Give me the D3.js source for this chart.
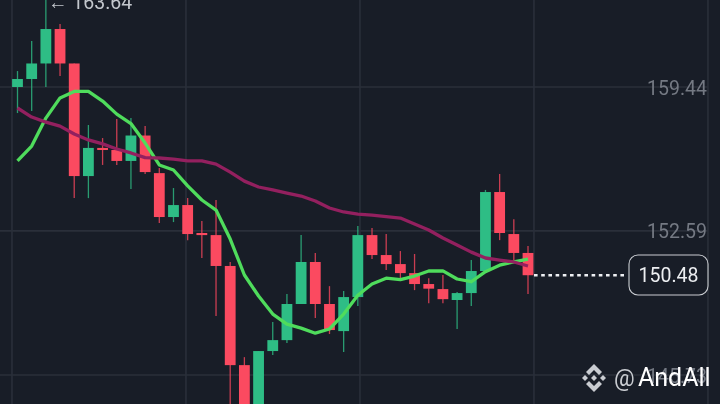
<!DOCTYPE html>
<html><head><meta charset="utf-8">
<script src="https://cdn.jsdelivr.net/npm/d3@7/dist/d3.min.js"></script>
<style>html,body{margin:0;padding:0;background:#181d27;overflow:hidden}svg{display:block;filter:blur(0.4px)}text{font-family:Roboto,sans-serif}</style>
</head><body><div id="c"></div>
<script>
const opens=[159.44,159.82,160.56,162.20,160.56,155.20,156.54,156.44,155.92,157.13,155.34,153.25,153.82,152.49,152.39,150.92,146.20,143.50,146.87,147.39,149.11,151.11,149.11,147.82,149.44,152.39,151.44,151.01,150.58,150.06,149.82,149.30,149.63,150.68,154.44,152.44,151.54];
const highs=[160.20,161.63,163.64,162.44,160.56,157.63,157.01,157.92,157.96,157.58,155.58,154.63,154.15,153.06,154.06,151.11,146.58,146.87,148.25,149.58,152.39,151.54,149.96,149.73,152.82,152.73,152.44,151.63,151.49,150.34,150.49,149.68,151.20,154.54,155.30,153.15,151.87];
const lows=[158.20,158.30,159.44,159.96,154.15,154.15,155.73,155.73,154.58,155.30,152.96,153.01,152.15,151.30,148.54,144.34,143.00,143.00,146.68,147.25,149.11,148.44,147.68,146.82,149.01,151.25,150.73,150.34,149.77,149.15,149.15,147.92,149.01,150.68,152.15,151.11,149.58];
const closes=[159.82,160.56,162.20,160.56,155.20,156.54,156.44,155.92,157.13,155.39,153.25,153.82,152.44,152.39,150.92,146.20,143.58,146.87,147.39,149.11,151.11,149.11,147.87,149.44,152.39,151.44,151.01,150.58,150.06,149.84,149.34,149.63,150.68,154.44,152.49,151.54,150.48];
const maFast=[155.92,156.63,157.96,158.92,159.23,159.23,158.77,158.15,157.70,156.77,155.73,155.49,154.73,154.06,153.58,152.20,150.49,149.49,148.63,148.15,147.96,147.72,147.92,148.63,149.53,150.06,150.34,150.27,150.44,150.68,150.69,150.30,150.17,150.65,150.96,151.12,151.25];
const maSlow=[158.44,158.01,157.77,157.58,157.20,156.92,156.73,156.49,156.30,156.08,156.06,156.01,155.92,155.92,155.77,155.39,154.96,154.68,154.54,154.39,154.25,154.01,153.68,153.49,153.39,153.34,153.27,153.20,152.92,152.63,152.25,151.92,151.58,151.30,151.20,151.11,150.92];
const priceTicks=[159.44,152.59,145.73];
const timeGrid=[-0.39,11.88,24.15,36.42,48.69];
const lastPrice=150.48, highLabel="← 163.64", watermarkAt="@", watermarkName="AndAll";

const W=720,H=404;
const x=d3.scaleLinear().domain([0,36]).range([17.5,528]);
const y=d3.scaleLinear().domain([159.44,145.73]).range([87,375]);
const svg=d3.select("#c").append("svg").attr("width",W).attr("height",H);
svg.append("rect").attr("x",-4).attr("y",-4).attr("width",W+8).attr("height",H+8).attr("fill","#181d27");
const gridC="#2a2f3a";
svg.append("g").selectAll("line").data(priceTicks).join("line")
  .attr("x1",0).attr("x2",x(timeGrid[4])).attr("y1",d=>y(d)).attr("y2",d=>y(d)).attr("stroke",gridC).attr("stroke-width",1.6);
svg.append("g").selectAll("line").data(timeGrid).join("line")
  .attr("x1",d=>x(d)).attr("x2",d=>x(d)).attr("y1",-4).attr("y2",H+4).attr("stroke",gridC).attr("stroke-width",1.6);
svg.append("g").selectAll("text").data(priceTicks).join("text")
  .attr("x",707).attr("y",d=>y(d)+7.5).attr("text-anchor","end").attr("font-size",19.5).attr("fill","#747983")
  .text(d=>d.toFixed(2));

const up=i=>closes[i]>=opens[i];
const idx=d3.range(opens.length);
const bw=10.8;
svg.append("g").selectAll("line").data(idx).join("line")
  .attr("x1",i=>x(i)).attr("x2",i=>x(i)).attr("y1",i=>y(highs[i])).attr("y2",i=>y(lows[i]))
  .attr("stroke",i=>up(i)?"#2ebd85":"#f6465d").attr("stroke-opacity",.8).attr("stroke-width",1.3);
svg.append("g").selectAll("rect").data(idx).join("rect")
  .attr("x",i=>x(i)-bw/2).attr("width",bw)
  .attr("y",i=>y(Math.max(opens[i],closes[i])))
  .attr("height",i=>Math.max(2,Math.abs(y(opens[i])-y(closes[i]))))
  .attr("fill",i=>up(i)?"#2ebd85":"#fb4a60");
const line=d3.line().x((d,i)=>x(i)).y(d=>y(d));
svg.append("path").attr("d",line(maFast)).attr("fill","none").attr("stroke","#4fdc5c").attr("stroke-width",3.3).attr("stroke-linejoin","round");
svg.append("path").attr("d",line(maSlow)).attr("fill","none").attr("stroke","#93205f").attr("stroke-width",3.3).attr("stroke-linejoin","round");

svg.append("text").attr("x",48).attr("y",8.5).attr("font-size",19.5).attr("fill","#c3c7cd").text(highLabel);

svg.append("line").attr("x1",534).attr("x2",627).attr("y1",y(lastPrice)).attr("y2",y(lastPrice))
  .attr("stroke","#eef0f3").attr("stroke-width",2.6).attr("stroke-dasharray","3.6 3.6");
svg.append("rect").attr("x",629).attr("y",255).attr("width",79).attr("height",40).attr("rx",9)
  .attr("fill","#181d27").attr("stroke","#c9ccd1").attr("stroke-width",1.1);
svg.append("text").attr("x",668.5).attr("y",y(lastPrice)+7).attr("text-anchor","middle").attr("font-size",19.5).attr("fill","#eceef1").text(lastPrice.toFixed(2));

// watermark
const wm=svg.append("g").attr("transform","translate(594,378)").attr("fill","#c9ccd1");
wm.append("path").attr("d","M0,-14L8,-6L5,-3L0,-8L-5,-3L-8,-6Z");
wm.append("path").attr("d","M0,14L8,6L5,3L0,8L-5,3L-8,6Z");
wm.append("path").attr("d","M-12,0L-9,-3L-6,0L-9,3Z");
wm.append("path").attr("d","M12,0L9,-3L6,0L9,3Z");
wm.append("path").attr("d","M0,-3L3,0L0,3L-3,0Z");
svg.append("text").attr("x",614).attr("y",386).attr("font-size",23).attr("fill","#c9ccd1").text(watermarkAt);
svg.append("text").attr("x",638).attr("y",386).attr("font-size",25).attr("fill","#ffffff").text(watermarkName);
</script></body></html>
